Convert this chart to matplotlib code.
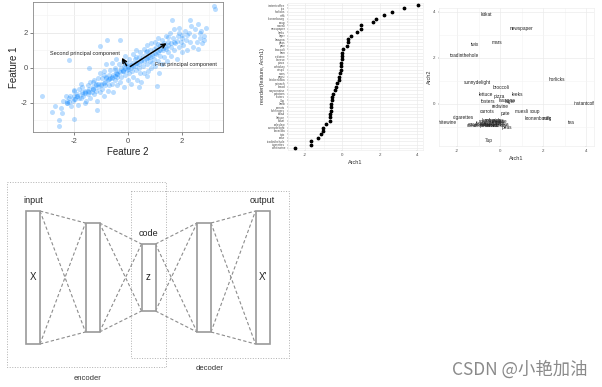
import numpy as np
import matplotlib
matplotlib.use('Agg')
import matplotlib.pyplot as plt
from matplotlib.patches import Rectangle

plt.rcParams['font.family'] = ['Liberation Sans', 'DejaVu Sans']
plt.rcParams['axes.unicode_minus'] = False

# ---- panel 1: PCA scatter ----
f2 = [-2.8, -2.7, -2.5, -2.4, -2.45, -2.3, -2.25, -2.2, -2.1, -2.15, -2.05, -2.0,
      -1.95, -1.9, -1.85, -1.8, -1.75, -1.7, -1.75, -1.65, -1.6, -1.55, -1.5, -1.5,
      -1.45, -1.4, -1.4, -1.35, -1.3, -1.25, -1.25, -1.2, -1.2, -1.15, -1.1, -1.1,
      -1.05, -1.05, -1.0, -0.95, -0.95, -0.9, -0.9, -0.85, -0.85, -0.8, -0.8, -0.75,
      -0.75, -0.7, -0.7, -0.65, -0.65, -0.6, -0.6, -0.55, -0.55, -0.5, -0.5, -0.45,
      -0.45, -0.4, -0.4, -0.35, -0.35, -0.3, -0.25, -0.25, -0.2, -0.2, -0.15, -0.15,
      -0.1, -0.1, -0.05, -0.05, 0.0, 0.0, 0.05, 0.05, 0.1, 0.1, 0.15, 0.15, 0.2, 0.2,
      0.25, 0.25, 0.3, 0.3, 0.35, 0.35, 0.4, 0.4, 0.45, 0.45, 0.5, 0.5, 0.55, 0.55,
      0.6, 0.6, 0.65, 0.65, 0.7, 0.7, 0.75, 0.75, 0.8, 0.8, 0.85, 0.85, 0.9, 0.9,
      0.95, 0.95, 1.0, 1.0, 1.05, 1.05, 1.1, 1.1, 1.15, 1.15, 1.2, 1.2, 1.25, 1.25,
      1.3, 1.35, 1.35, 1.4, 1.4, 1.45, 1.5, 1.5, 1.55, 1.6, 1.6, 1.65, 1.7, 1.7,
      1.75, 1.8, 1.85, 1.9, 1.9, 1.95, 2.0, 2.0, 2.05, 2.1, 2.15, 2.2, 2.25, 2.3,
      2.35, 2.4, 2.45, 2.5, 2.55, 2.6, 2.65, 2.7, 2.75, 2.8, 2.9, 2.6,
      3.17, 3.23, -3.19, -2.57, -2.57, -2.01, -2.2, 2.28, 1.63, -0.31, -1.46, -1.15,
      -1.58, -2.26, -2.0, -1.89, 2.8, 2.68, 1.07, 0.4, 0.7, -1.02, -0.78,
      -2.26, -2.2, -2.0, -1.9, -1.6, -1.5, -1.3, -1.1, -0.6, -0.4, -0.2, 0.0,
      -2.0, -1.8, -1.7, -1.6, -1.45, -1.3, -1.2, -1.0, -0.9, -0.8,
      -0.7, -0.6, -0.5, -0.4, -0.3, -0.2, -0.1, 0.0, 0.1, 0.2,
      0.3, 0.4, 0.5, 0.6, 0.7, 0.8, 0.9, 1.0, 1.1, 1.2,
      1.3, 1.4, 1.5, 1.6, 1.7, 1.8, 2.0, 2.2,
      -1.7, -1.3, -0.9, -0.5, -0.1, 0.3, 0.7, 1.1, 1.5, 1.9]
f1 = [-2.5, -2.2, -2.3, -1.9, -2.6, -1.6, -2.0, -1.7, -2.2, -1.6, -1.9, -1.3,
      -1.8, -1.5, -2.1, -1.2, -1.7, -1.4, -0.9, -1.6, -1.3, -1.9, -1.0, -1.5,
      -1.2, -0.8, -1.7, -1.35, -1.1, -0.7, -1.5, -0.9, -1.3, -1.9, -0.6, -1.1,
      -0.3, -1.4, -0.9, -0.6, -1.2, -0.2, -1.6, -0.8, -1.0, -0.5, 0.2, -1.3,
      -0.7, -0.4, -1.0, -0.1, -0.6, 0.3, -0.9, -0.4, -1.4, -0.7, 0.0, -0.3,
      0.5, -1.0, -0.5, -0.2, 0.2, -0.8, 0.0, -0.5, 0.4, -0.2, -1.1, 0.1,
      -0.4, 0.7, -0.1, 0.3, -0.7, 0.1, -0.3, 0.5, 0.0, -0.9, 0.3, -0.2, 0.8, -0.5,
      0.1, 0.5, -0.1, 1.0, 0.3, -0.7, 0.6, 0.0, 0.9, -0.3, 0.4, -0.8, 0.7, 0.1,
      1.1, -0.3, 0.5, 0.9, 0.2, 1.3, 0.6, -0.2, 1.0, 0.4, 1.4, 0.0, 0.8, 0.3,
      1.1, 0.5, 1.5, 0.1, 0.8, 1.2, 0.4, 1.7, 1.0, -0.3, 1.3, 0.7, 1.6, 0.2,
      1.0, 1.4, 0.6, 1.8, 1.1, 0.4, 1.5, 0.9, 2.0, 1.2, 0.7, 1.7, 1.0, 2.2,
      1.4, 0.5, 1.8, 1.2, 2.3, 1.5, 0.9, 1.9, 1.3, 2.1, 1.6, 1.0, 2.0, 1.5,
      2.4, 1.2, 1.8, 2.2, 1.5, 2.5, 1.7, 2.1, 1.4, 1.8, 2.3, 1.1,
      3.52, 3.37, -1.58, -2.99, -3.33, -2.9, 0.44, 2.76, 2.72, 1.62, 0.0, -2.38,
      -2.0, -1.9, -1.24, -1.58, 1.62, 2.0, -1.05, -1.09, -0.48, 1.24, 1.62,
      -2.0, -1.95, -1.6, -1.6, -1.4, -1.3, -1.2, -0.9, -0.5, -0.35, -0.1, 0.05,
      -1.8, -1.7, -1.5, -1.45, -1.35, -1.2, -1.0, -0.95, -0.85, -0.6,
      -0.65, -0.55, -0.45, -0.35, -0.25, -0.15, 0.0, -0.05, 0.15, 0.1,
      0.3, 0.2, 0.45, 0.4, 0.55, 0.6, 0.7, 0.85, 0.9, 1.0,
      1.15, 1.2, 1.3, 1.45, 1.5, 1.55, 1.7, 1.9,
      -1.1, -0.8, -0.4, -0.1, 0.25, 0.6, 0.95, 1.35, 1.75, 2.0]

# ---- panels 2 and 3: archetype scores per food ----
food = ['instantcoffee', 'tea', 'horlicks', 'milk', 'kronenbourg', 'soup',
        'newspaper', 'muesli', 'leeks', 'lager', 'peas', 'lasagna', 'pate',
        'broccoli', 'cheese', 'redwine', 'ham', 'whiskey', 'pizza', 'crisps',
        'mars', 'chickentikka', 'pepsi', 'spinach', 'bread', 'mayonnaise',
        'potatoes', '7up', 'fosters', 'fishfingers', 'carrots', 'lamb',
        'kitkat', 'lettuce', 'salad', 'coleslaw', 'cocacola', 'sunnydelight',
        'twix', 'coke', 'toadinthehole', 'cigarettes', 'whitewine']
arch1 = [4.05, 3.3, 2.65, 2.2, 1.8, 1.65, 1.0, 1.0, 0.8, 0.45, 0.3, 0.3, 0.25,
         0.05, 0.0, 0.0, 0.0, -0.05, -0.05, -0.1, -0.15, -0.2, -0.2, -0.3, -0.35,
         -0.4, -0.5, -0.55, -0.55, -0.6, -0.6, -0.6, -0.65, -0.65, -0.65, -0.85,
         -1.05, -1.05, -1.15, -1.3, -1.65, -1.7, -2.55]
arch2 = [0.03, -0.83, 1.06, -0.64, -0.62, -0.35, 3.3, -0.35, 0.41, 0.12, -1.04,
         0.15, -0.4, 0.7, -0.75, -0.13, -0.85, -0.95, 0.33, -0.7, 2.65, -0.88,
         -0.8, -0.7, -0.92, -0.78, -0.95, -1.58, 0.1, -0.85, -0.32, -0.7, 3.88,
         0.43, -0.9, -0.92, -0.9, 0.91, 2.6, -0.95, 2.12, -0.58, -0.83]

# ---- bottom: autoencoder diagram ----
layer_titles = ['input', '', 'code', '', 'output']
layer_symbols = ['X', '', 'z', '', "X'"]
layer_heights = [133, 109, 67, 109, 133]

W, H = 602, 387
fig = plt.figure(figsize=(W / 100, H / 100), dpi=100)

grid_c = '#EBEBEB'
tick_c = '#4D4D4D'

# panel 1
ax1 = fig.add_axes([33 / W, 1 - 132 / H, 190 / W, 130 / H])
ax1.scatter(f2, f1, s=13, color='#1E90FF', alpha=0.3, linewidths=0, zorder=2)
ax1.set_xlim(-3.52, 3.52)
ax1.set_ylim(-3.66, 3.77)
ax1.set_xticks([-2, 0, 2])
ax1.set_yticks([-2, 0, 2])
ax1.set_xticks([-3, -1, 1, 3], minor=True)
ax1.set_yticks([-3, -1, 1, 3], minor=True)
ax1.grid(True, which='major', color=grid_c, lw=0.7, zorder=0)
ax1.grid(True, which='minor', color='#F4F4F4', lw=0.5, zorder=0)
ax1.tick_params(which='major', labelsize=5.5, colors=tick_c, length=2, width=0.5, pad=2)
ax1.tick_params(which='minor', length=0)
for s in ax1.spines.values():
    s.set_color('#888888')
    s.set_linewidth(0.6)
ax1.set_xlabel('Feature 2', size=7, color='#222222', labelpad=2)
ax1.set_ylabel('Feature 1', size=7, color='#222222', labelpad=1)
ax1.annotate('', xy=(1.52, 1.5), xytext=(0, 0),
             arrowprops=dict(arrowstyle='->', lw=1.1, color='black', mutation_scale=7))
ax1.annotate('', xy=(-0.28, 0.72), xytext=(0, 0),
             arrowprops=dict(arrowstyle='->', lw=1.1, color='black', mutation_scale=7))
ax1.text(-0.31, 0.8, 'Second principal component', ha='right', va='center',
         size=4, color='#222222')
ax1.text(0.99, 0.19, 'First principal component', ha='left', va='center',
         size=4, color='#222222')

# panel 2
order = np.argsort(arch1, kind='stable')
ypos = np.arange(1, len(food) + 1)
ax2 = fig.add_axes([288 / W, 1 - 150 / H, 135 / W, 147 / H])
ax2.scatter(np.array(arch1)[order], ypos, s=3, color='black', zorder=3)
ax2.set_yticks(ypos)
ax2.set_yticklabels(np.array(food)[order])
ax2.set_xticks([-2, 0, 2, 4])
ax2.set_xticks([-1, 1, 3], minor=True)
ax2.set_xlim(-2.9, 4.3)
ax2.set_ylim(0.4, len(food) + 0.6)
ax2.grid(True, which='major', color=grid_c, lw=0.5, zorder=0)
ax2.grid(True, which='minor', axis='x', color='#F4F4F4', lw=0.4, zorder=0)
ax2.tick_params(axis='y', labelsize=2.2, colors=tick_c, length=1, width=0.3, pad=1)
ax2.tick_params(axis='x', labelsize=3.2, colors=tick_c, length=1, width=0.3, pad=1.5)
ax2.tick_params(which='minor', length=0)
for s in ax2.spines.values():
    s.set_color('#EEEEEE')
    s.set_linewidth(0.5)
ax2.set_xlabel('Arch1', size=4, color='#333333', labelpad=2)
ax2.set_ylabel('reorder(feature, Arch1)', size=4, color='#333333', labelpad=1)

# panel 3
ax3 = fig.add_axes([439 / W, 1 - 146 / H, 155 / W, 138 / H])
for name, a, b in zip(food, arch1, arch2):
    ax3.text(a, b, name, ha='center', va='center', size=3.4, color='#222222',
             clip_on=True)
ax3.set_xlim(-2.84, 4.37)
ax3.set_ylim(-1.83, 4.17)
ax3.set_xticks([-2, 0, 2, 4])
ax3.set_yticks([0, 2, 4])
ax3.set_xticks([-1, 1, 3], minor=True)
ax3.set_yticks([-1, 1, 3], minor=True)
ax3.grid(True, which='major', color=grid_c, lw=0.5, zorder=0)
ax3.grid(True, which='minor', color='#F4F4F4', lw=0.4, zorder=0)
ax3.tick_params(which='major', labelsize=3.2, colors=tick_c, length=1, width=0.3, pad=1.5)
ax3.tick_params(which='minor', length=0)
for s in ax3.spines.values():
    s.set_color('#EEEEEE')
    s.set_linewidth(0.5)
ax3.set_xlabel('Arch1', size=4, color='#333333', labelpad=2)
ax3.set_ylabel('Arch2', size=4, color='#333333', labelpad=1)

# autoencoder diagram, local pixel coordinates
ax4 = fig.add_axes([0, 0, 300 / W, 212 / H])
ax4.set_xlim(0, 300)
ax4.set_ylim(212, 0)
ax4.axis('off')

layer_x = [33, 92.5, 148.5, 204, 262.5]
cy = 102.5
lw_box = 14
for i in range(len(layer_x) - 1):
    x0 = layer_x[i] + lw_box / 2
    x1 = layer_x[i + 1] - lw_box / 2
    for y0 in (cy - layer_heights[i] / 2, cy + layer_heights[i] / 2):
        for y1 in (cy - layer_heights[i + 1] / 2, cy + layer_heights[i + 1] / 2):
            ax4.plot([x0, x1], [y0, y1], color='#8c8c8c', lw=0.8, dashes=(3, 2))
for x, h, t, sym in zip(layer_x, layer_heights, layer_titles, layer_symbols):
    ax4.add_patch(Rectangle((x - lw_box / 2, cy - h / 2), lw_box, h, facecolor='white',
                            edgecolor='#9a9a9a', lw=1.2, zorder=3))
    if t:
        ax4.text(x, cy - h / 2 - 6, t, ha='center', va='bottom', size=6.5, color='#222222')
    if sym:
        ax4.text(x, cy, sym, ha='center', va='center', size=7, color='#222222', zorder=4)

ax4.add_patch(Rectangle((7, 7), 159, 185, fill=False, edgecolor='#b0b0b0', lw=0.7, ls=':'))
ax4.add_patch(Rectangle((131, 16), 158, 167, fill=False, edgecolor='#b0b0b0', lw=0.7, ls=':'))
ax4.text(87, 203, 'encoder', ha='center', va='center', size=5.5, color='#333333')
ax4.text(210, 193, 'decoder', ha='center', va='center', size=5.5, color='#333333')

fig.text(587 / W, 1 - 370 / H, 'CSDN @小艳加油', ha='right', va='center', size=12.5,
         color='#8a8a8a', family=['Noto Sans CJK SC', 'DejaVu Sans'])

fig.savefig('out.png', dpi=100)
